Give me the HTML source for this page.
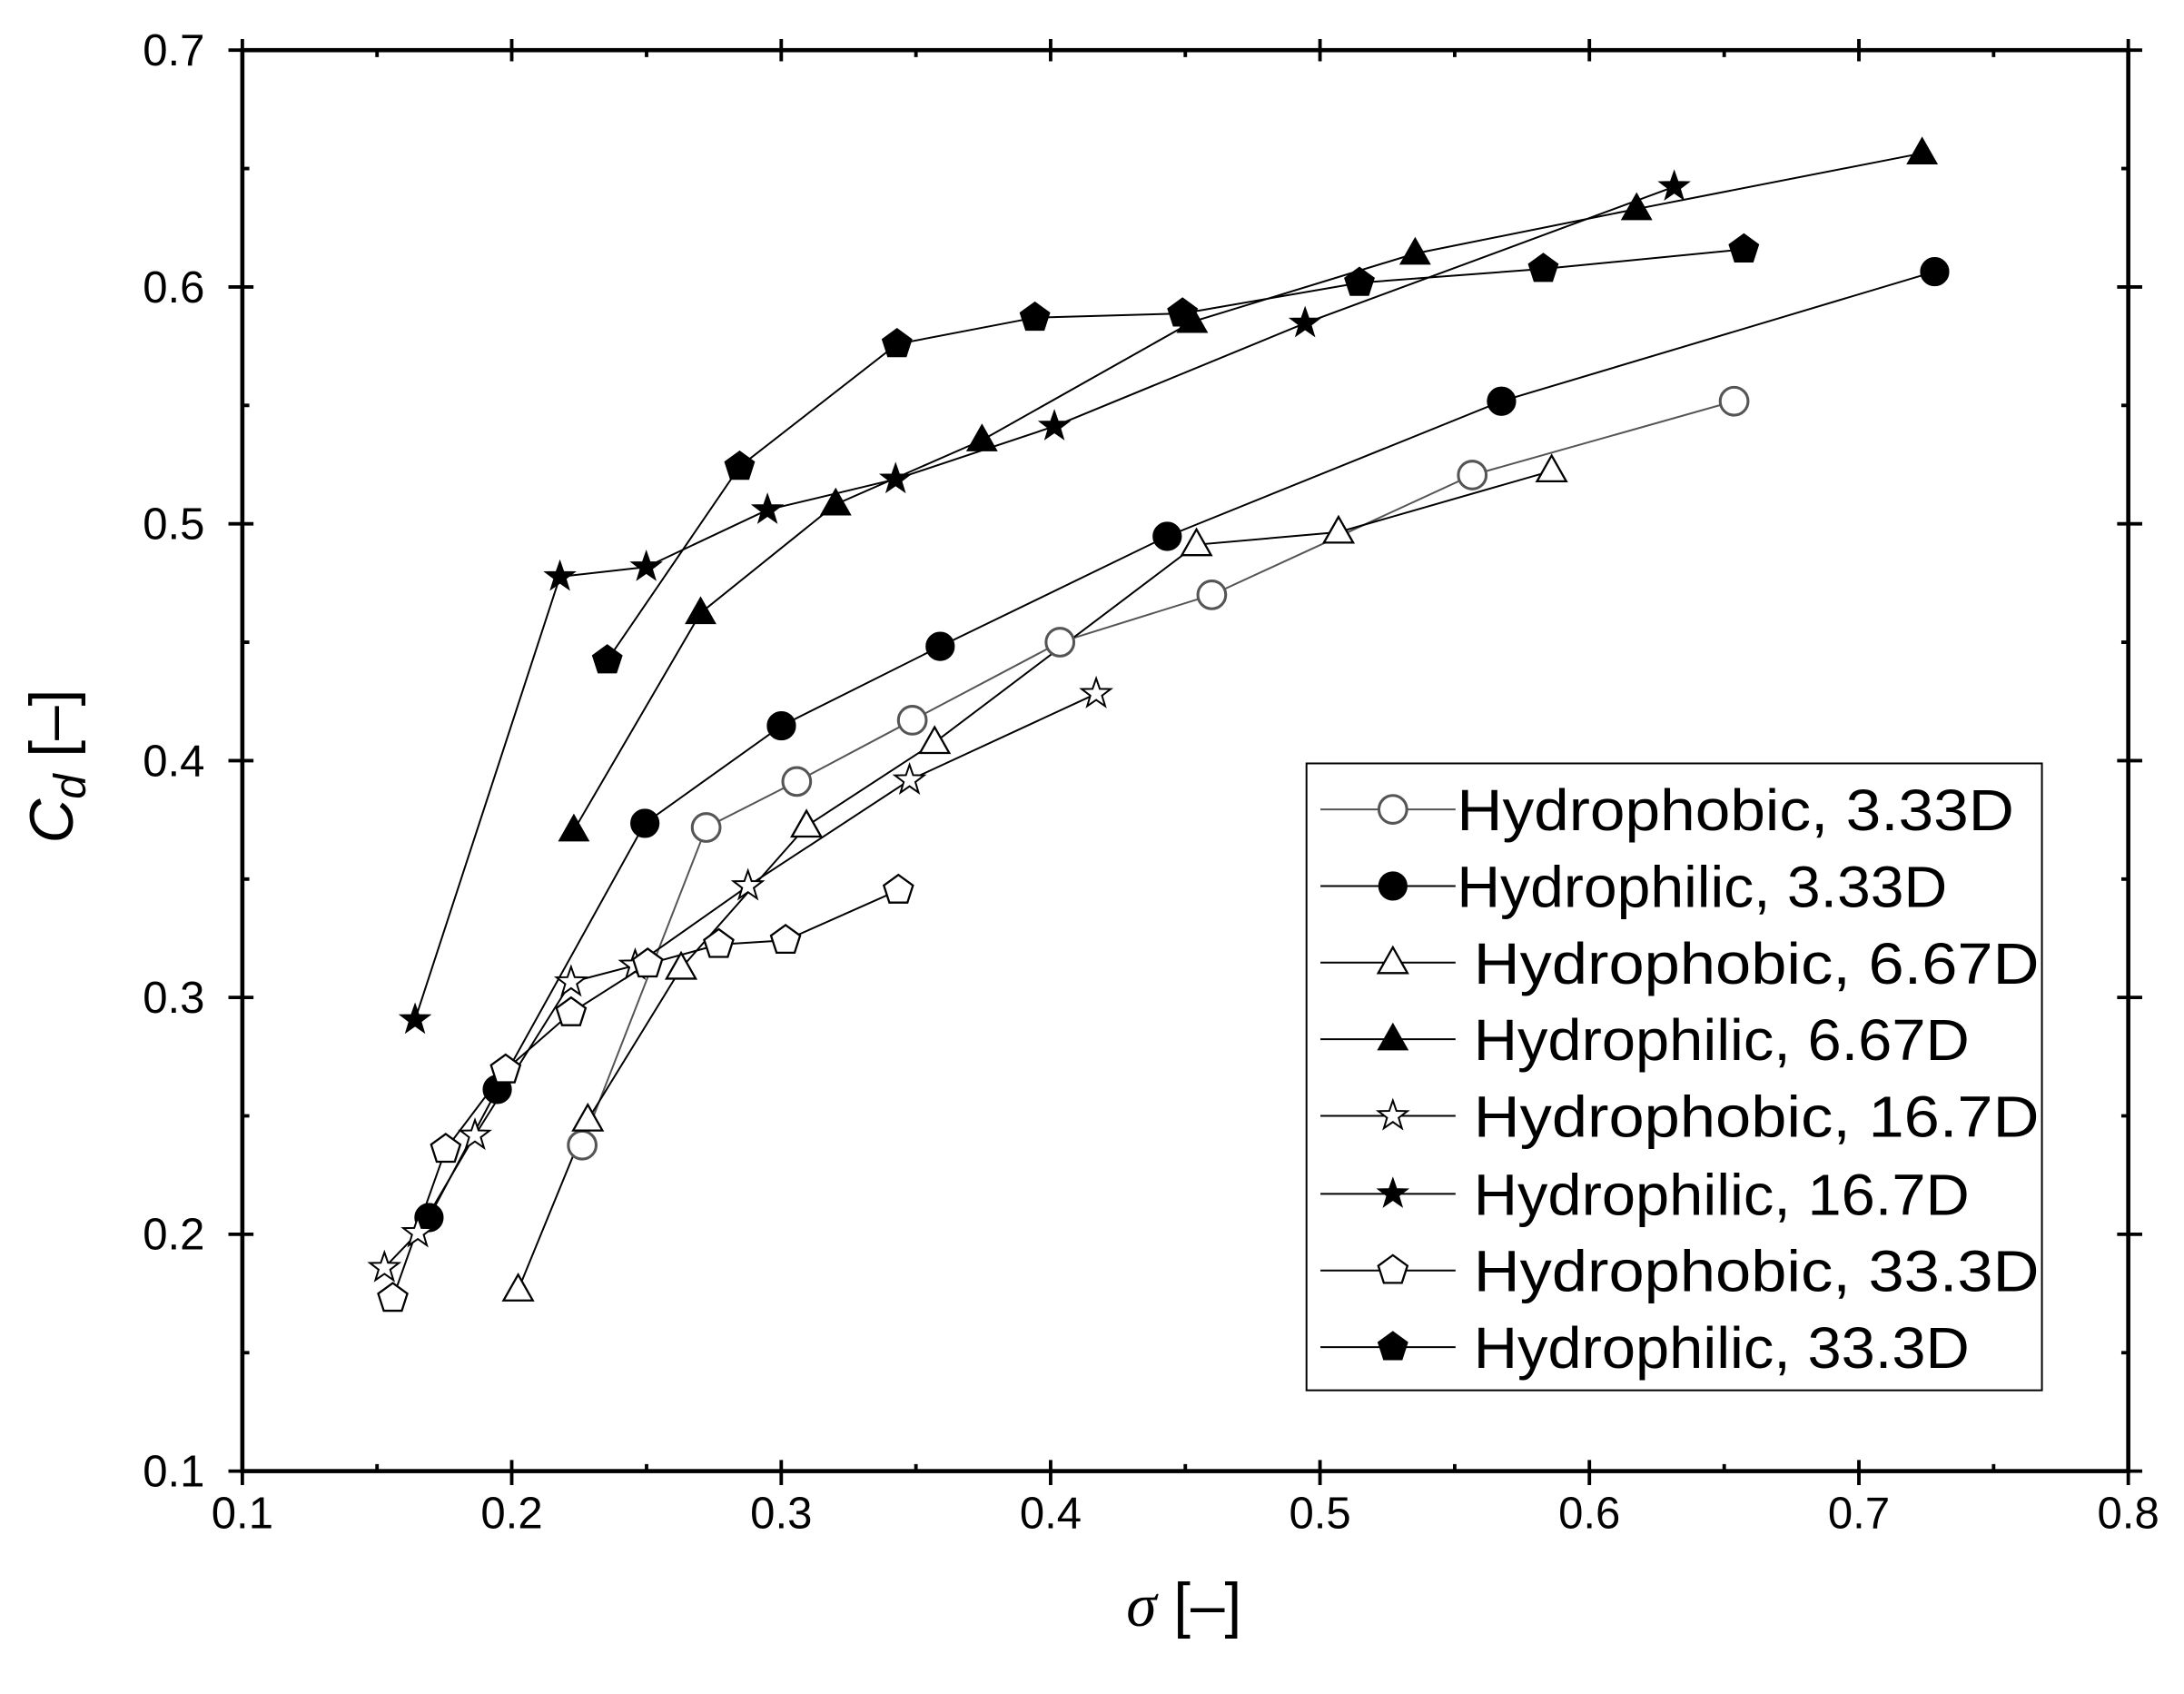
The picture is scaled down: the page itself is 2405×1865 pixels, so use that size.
<!DOCTYPE html>
<html><head><meta charset="utf-8"><style>html,body{margin:0;padding:0;background:#fff}svg{display:block}</style></head>
<body>
<svg width="2405" height="1865" viewBox="0 0 1568 1216" preserveAspectRatio="none" xmlns="http://www.w3.org/2000/svg" font-family="Liberation Sans, sans-serif">
<defs>
<circle id="c" r="10"/>
<path id="t" d="M0,-11 L10.5,7.5 L-10.5,7.5Z"/>
<path id="s" d="M0,-11 L2.59,-3.56 L10.46,-3.4 L4.18,1.36 L6.47,8.9 L0,4.4 L-6.47,8.9 L-4.18,1.36 L-10.46,-3.4 L-2.59,-3.56Z"/>
<path id="p" d="M0,-11 L10.46,-3.4 L6.47,8.9 L-6.47,8.9 L-10.46,-3.4Z"/>
</defs>
<rect width="1568" height="1216" fill="#fff"/>
<g stroke="#000" stroke-width="3" fill="none">
<rect x="174" y="36" width="1354" height="1020"/>
</g>
<g stroke="#000" stroke-width="2.5">
<path d="M174,1056v10M367.4,1056v10M560.9,1056v10M754.3,1056v10M947.7,1056v10M1141.1,1056v10M1334.6,1056v10M1528,1056v10
M174,1056v-8M367.4,1056v-8M560.9,1056v-8M754.3,1056v-8M947.7,1056v-8M1141.1,1056v-8M1334.6,1056v-8M1528,1056v-8
M174,36v8M367.4,36v8M560.9,36v8M754.3,36v8M947.7,36v8M1141.1,36v8M1334.6,36v8M1528,36v8
M174,36v-8M367.4,36v-8M560.9,36v-8M754.3,36v-8M947.7,36v-8M1141.1,36v-8M1334.6,36v-8M1528,36v-8"/>
<path d="M270.7,1056v-5M464.2,1056v-5M657.6,1056v-5M851,1056v-5M1044.4,1056v-5M1237.9,1056v-5M1431.3,1056v-5
M270.7,36v5M464.2,36v5M657.6,36v5M851,36v5M1044.4,36v5M1237.9,36v5M1431.3,36v5"/>
<path d="M174,1056h-10M174,886h-10M174,716h-10M174,546h-10M174,376h-10M174,206h-10M174,36h-10
M174,886h8M174,716h8M174,546h8M174,376h8M174,206h8
M1528,886h-8M1528,716h-8M1528,546h-8M1528,376h-8M1528,206h-8
M1528,886h10M1528,716h10M1528,546h10M1528,376h10M1528,206h10M1528,1056h10M1528,36h10"/>
<path d="M174,971h5M174,801h5M174,631h5M174,461h5M174,291h5M174,121h5
M1528,971h-5M1528,801h-5M1528,631h-5M1528,461h-5M1528,291h-5M1528,121h-5"/>
</g>
<g font-size="32" text-anchor="end" fill="#000">
<text x="147" y="1067">0.1</text><text x="147" y="897">0.2</text><text x="147" y="727">0.3</text><text x="147" y="557">0.4</text><text x="147" y="387">0.5</text><text x="147" y="217">0.6</text><text x="147" y="47">0.7</text>
</g>
<g font-size="32" text-anchor="middle" fill="#000">
<text x="174" y="1097">0.1</text><text x="367.4" y="1097">0.2</text><text x="560.9" y="1097">0.3</text><text x="754.3" y="1097">0.4</text><text x="947.7" y="1097">0.5</text><text x="1141.1" y="1097">0.6</text><text x="1334.6" y="1097">0.7</text><text x="1528" y="1097">0.8</text>
</g>
<text x="850" y="1167" font-size="44" text-anchor="middle"><tspan font-style="italic" font-family="Liberation Serif, serif">σ</tspan> [–]</text>
<text transform="translate(52,550) rotate(-90)" font-size="44" text-anchor="middle"><tspan font-style="italic">C</tspan><tspan font-style="italic" font-size="32" dy="9">d</tspan><tspan dy="-9"> [–]</tspan></text>

<g fill="none" stroke-width="1.3">
<polyline stroke="#555" points="418,822 507,594 572,561 655,517 761,461 870,427 1057,341 1245,288"/>
<polyline stroke="#000" points="308,874 357,782 463,591 561,521 675,464 838,385 1078,288 1389,195"/>
<polyline stroke="#000" points="372,926 422,804 489,695 579,593 671,533 859,391 961,382 1114,338"/>
<polyline stroke="#000" points="412,596 503,440 600,362 705,316 856,231 1016,182 1175,150 1380,110"/>
<polyline stroke="#000" points="276,910 300,885 341,815 410,705 456,693 537,636 653,560 787,498"/>
<polyline stroke="#000" points="298,732 402,414 464,407 551,366 643,344 757,306 937,232 1202,134"/>
<polyline stroke="#000" points="282,932 320,825 363,768 410,727 465,692 516,678 564,675 645,639"/>
<polyline stroke="#000" points="436,474 531,335 644,247 743,228 849,225 976,203 1108,193 1252,179"/>
</g>
<g fill="#fff" stroke="#555" stroke-width="2">
<use href="#c" x="418" y="822"/><use href="#c" x="507" y="594"/><use href="#c" x="572" y="561"/><use href="#c" x="655" y="517"/><use href="#c" x="761" y="461"/><use href="#c" x="870" y="427"/><use href="#c" x="1057" y="341"/><use href="#c" x="1245" y="288"/>
</g>
<g fill="#000" stroke="#000" stroke-width="1">
<use href="#c" x="308" y="874"/><use href="#c" x="357" y="782"/><use href="#c" x="463" y="591"/><use href="#c" x="561" y="521"/><use href="#c" x="675" y="464"/><use href="#c" x="838" y="385"/><use href="#c" x="1078" y="288"/><use href="#c" x="1389" y="195"/>
</g>
<g fill="#fff" stroke="#000" stroke-width="1.5">
<use href="#t" x="372" y="926"/><use href="#t" x="422" y="804"/><use href="#t" x="489" y="695"/><use href="#t" x="579" y="593"/><use href="#t" x="671" y="533"/><use href="#t" x="859" y="391"/><use href="#t" x="961" y="382"/><use href="#t" x="1114" y="338"/>
</g>
<g fill="#000" stroke="#000" stroke-width="1">
<use href="#t" x="412" y="596"/><use href="#t" x="503" y="440"/><use href="#t" x="600" y="362"/><use href="#t" x="705" y="316"/><use href="#t" x="856" y="231"/><use href="#t" x="1016" y="182"/><use href="#t" x="1175" y="150"/><use href="#t" x="1380" y="110"/>
</g>
<g fill="#fff" stroke="#000" stroke-width="1.3">
<use href="#s" x="276" y="910"/><use href="#s" x="300" y="885"/><use href="#s" x="341" y="815"/><use href="#s" x="410" y="705"/><use href="#s" x="456" y="693"/><use href="#s" x="537" y="636"/><use href="#s" x="653" y="560"/><use href="#s" x="787" y="498"/>
</g>
<g fill="#000" stroke="#000" stroke-width="1">
<use href="#s" x="298" y="732"/><use href="#s" x="402" y="414"/><use href="#s" x="464" y="407"/><use href="#s" x="551" y="366"/><use href="#s" x="643" y="344"/><use href="#s" x="757" y="306"/><use href="#s" x="937" y="232"/><use href="#s" x="1202" y="134"/>
</g>
<g fill="#fff" stroke="#000" stroke-width="1.5">
<use href="#p" x="282" y="932"/><use href="#p" x="320" y="825"/><use href="#p" x="363" y="768"/><use href="#p" x="410" y="727"/><use href="#p" x="465" y="692"/><use href="#p" x="516" y="678"/><use href="#p" x="564" y="675"/><use href="#p" x="645" y="639"/>
</g>
<g fill="#000" stroke="#000" stroke-width="1">
<use href="#p" x="436" y="474"/><use href="#p" x="531" y="335"/><use href="#p" x="644" y="247"/><use href="#p" x="743" y="228"/><use href="#p" x="849" y="225"/><use href="#p" x="976" y="203"/><use href="#p" x="1108" y="193"/><use href="#p" x="1252" y="179"/>
</g>

<rect x="938" y="548" width="528" height="450" fill="#fff" stroke="#000" stroke-width="1.3"/>
<g stroke-width="1.3">
<path stroke="#555" d="M948,581h97"/>
<path stroke="#000" d="M948,636h97M948,691h97M948,746h97M948,801h97M948,857h97M948,912h97M948,967h97"/>
</g>
<use href="#c" x="1000" y="581" fill="#fff" stroke="#555" stroke-width="2"/>
<use href="#c" x="1000" y="636" fill="#000" stroke="#000"/>
<use href="#t" x="1000" y="691" fill="#fff" stroke="#000" stroke-width="1.5"/>
<use href="#t" x="1000" y="746" fill="#000" stroke="#000"/>
<use href="#s" x="1000" y="801" fill="#fff" stroke="#000" stroke-width="1.3"/>
<use href="#s" x="1000" y="857" fill="#000" stroke="#000"/>
<use href="#p" x="1000" y="912" fill="#fff" stroke="#000" stroke-width="1.5"/>
<use href="#p" x="1000" y="967" fill="#000" stroke="#000"/>
<g font-size="42" fill="#000" textLength="0">
<text x="1046" y="596" textLength="400" lengthAdjust="spacingAndGlyphs">Hydrophobic, 3.33D</text>
<text x="1046" y="651" textLength="352" lengthAdjust="spacingAndGlyphs">Hydrophilic, 3.33D</text>
<text x="1058" y="706" textLength="406" lengthAdjust="spacingAndGlyphs">Hydrophobic, 6.67D</text>
<text x="1058" y="761" textLength="356" lengthAdjust="spacingAndGlyphs">Hydrophilic, 6.67D</text>
<text x="1058" y="816" textLength="406" lengthAdjust="spacingAndGlyphs">Hydrophobic, 16.7D</text>
<text x="1058" y="872" textLength="356" lengthAdjust="spacingAndGlyphs">Hydrophilic, 16.7D</text>
<text x="1058" y="927" textLength="406" lengthAdjust="spacingAndGlyphs">Hydrophobic, 33.3D</text>
<text x="1058" y="982" textLength="356" lengthAdjust="spacingAndGlyphs">Hydrophilic, 33.3D</text>
</g>
</svg>
</body></html>
